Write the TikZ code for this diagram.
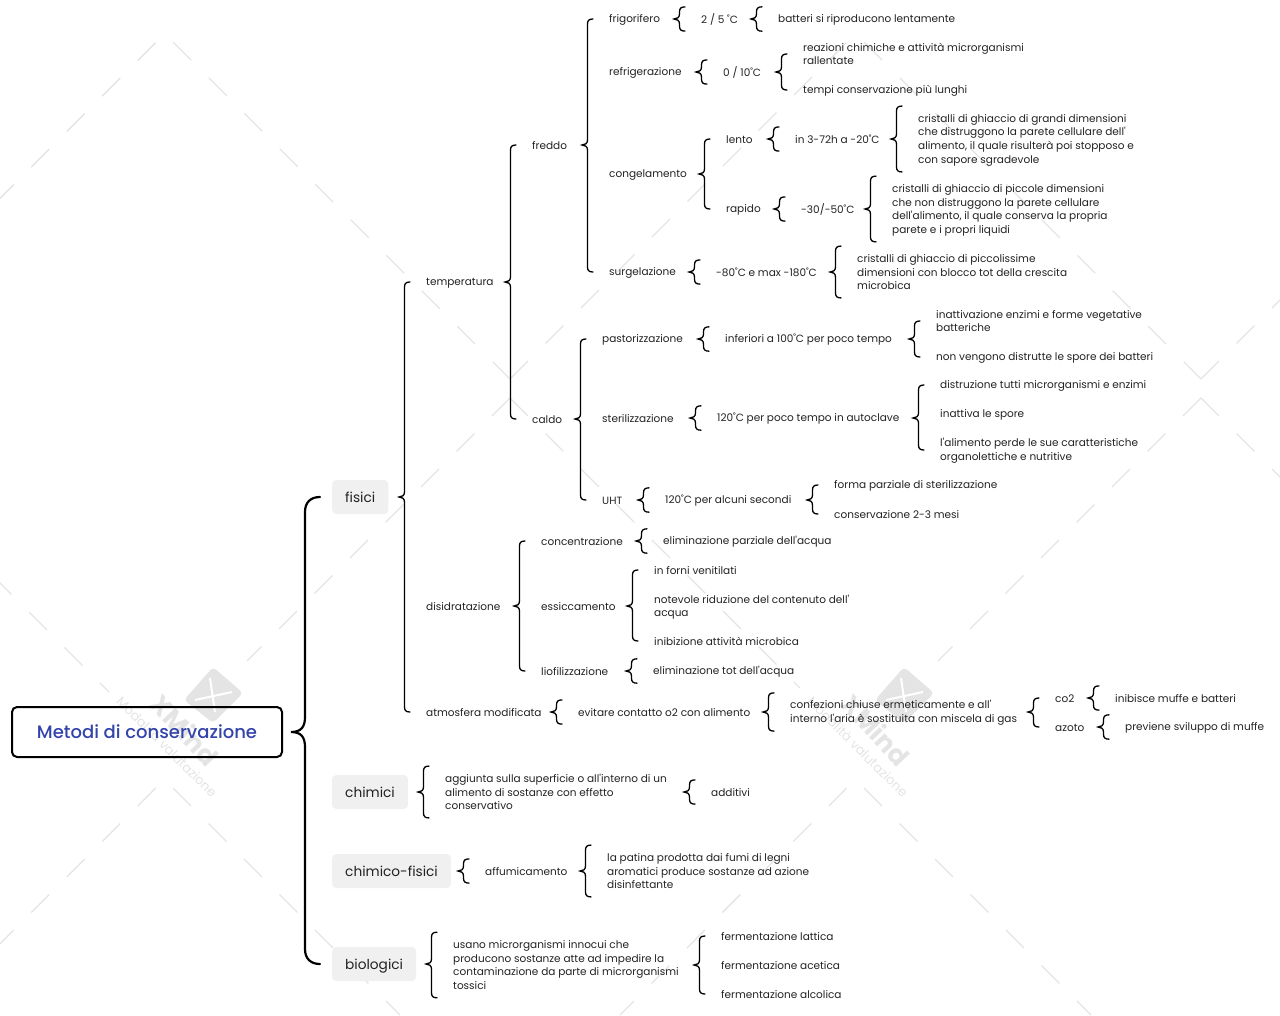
\documentclass[tikz,border=0pt]{standalone}
\usepackage{fontspec}
\setmainfont{Poppins}[Ligatures=TeXOff]
\newfontfamily\titlefont{Poppins Medium}
\usetikzlibrary{calc}

\definecolor{inkgray}{HTML}{222222}
\definecolor{titleblue}{HTML}{3344AA}
\definecolor{catgray}{HTML}{F0F0F0}
\definecolor{markgray}{HTML}{E4E4E4}

\newcommand{\lstrut}{\vrule height 10.6pt depth 2.6pt width 0pt}
\newcommand{\kidbrace}[3]{
 \draw[brace] let \p1=(#2),\p2=(#3),\p3=(#1.east) in
  (\x1-16pt,\y1) .. controls (\x1-20pt,\y1) and (\x1-21.5pt,\y1-1.5pt) .. (\x1-21.5pt,\y1-5pt)
  -- (\x1-21.5pt,\y3+5pt) .. controls (\x1-21.5pt,\y3+1.5pt) and (\x1-24pt,\y3) .. (\x1-27pt,\y3)
  .. controls (\x1-24pt,\y3) and (\x1-21.5pt,\y3-1.5pt) .. (\x1-21.5pt,\y3-5pt)
  -- (\x1-21.5pt,\y2+5pt) .. controls (\x1-21.5pt,\y2+1.5pt) and (\x1-20pt,\y2) .. (\x1-16pt,\y2);
}
\newcommand{\onebrace}[2]{\kidbrace{#1}{$(#2.north west)+(0pt,5.3pt)$}{$(#2.south west)+(0pt,-5.3pt)$}}

\begin{document}
\begin{tikzpicture}[
 x=1pt,y=-1pt,
 txt/.style={anchor=west,inner sep=0pt,align=left,text=inkgray,font=\fontsize{10.5}{13.8}\selectfont},
 cat/.style={anchor=west,fill=catgray,rounded corners=4pt,inner xsep=13pt,inner ysep=0pt,minimum height=34pt,text height=14pt,text depth=3pt,text=inkgray,font=\fontsize{13.7}{17}\selectfont},
 main/.style={draw=black,line width=2pt,rounded corners=5pt,minimum width=270pt,minimum height=50pt,text=titleblue,font=\fontsize{18}{23}\titlefont},
 brace/.style={draw=black,line width=1.3pt,line cap=round},
 wmark/.style={draw=markgray,line width=1.3pt,dash pattern=on 25.4pt off 24.8pt}
]
\useasboundingbox (0,0) rectangle (1280,1015);

\begin{scope}
\clip (0,0) rectangle (1280,1015);
\foreach \from/\to in {{173.3,42.3}/{510,379},{155.7,42.7}/{-1,199.4},{510,379}/{846.3,42.7},{864.3,42.3}/{1201,379},{1201,379}/{1281,299},
 {510,398}/{247,661},{510,398}/{800,688},{1201,398}/{938,661},{1201,398}/{1281,478},{-6.5,576.5}/{109,692},
 {155.7,788}/{-1,944.7},{173,788}/{400,1015},{846.7,788}/{620,1015},{864,788}/{1091,1015}}
 {\draw[wmark] (\from) -- (\to);}
\end{scope}
\foreach \lx in {0,691} {
 \begin{scope}[xshift=\lx pt]
 \fill[markgray,rounded corners=4pt] (213,667) -- (243,693) -- (213,723) -- (184,700) -- cycle;
 \draw[white,line width=2pt] (210,678) -- (215,712) (195,700) -- (232,692);
 \node (xmind-\lx) [rotate=-47,text=markgray,font=\fontsize{26}{30}\selectfont\bfseries] at (185,730) {XMind};
 \node (trial-\lx) [rotate=-45,text=markgray,font=\fontsize{13}{15}\selectfont] at (167,747) {Modalità valutazione};
 \end{scope}
}

\node (metodi) [main] at (147,732) {Metodi di conservazione};
\node (fisici) [cat] at (332,497) {fisici};
\node (chimici) [cat] at (332,792) {chimici};
\node (chimico-fisici) [cat] at (332,871) {chimico-fisici};
\node (biologici) [cat] at (332,964) {biologici};

\node (temperatura) [txt] at (426,282) {\lstrut temperatura};
\node (disidratazione) [txt] at (426,606) {\lstrut disidratazione};
\node (atmosfera) [txt] at (426,712) {\lstrut atmosfera modificata};

\node (freddo) [txt] at (532,145) {\lstrut freddo};
\node (caldo) [txt] at (532,419) {\lstrut caldo};

\node (frigorifero) [txt] at (609,19) {\lstrut frigorifero};
\node (frigo-temp) [txt] at (701,19) {\lstrut 2 / 5 ˚C};
\node (frigo-note) [txt] at (778,19) {\lstrut batteri si riproducono lentamente};
\node (refrigerazione) [txt] at (609,72) {\lstrut refrigerazione};
\node (refri-temp) [txt] at (723,72) {\lstrut 0 / 10˚C};
\node (refri-note-a) [txt] at (803,54) {\lstrut reazioni chimiche e attività microrganismi\\rallentate\lstrut};
\node (refri-note-b) [txt] at (803,90) {\lstrut tempi conservazione più lunghi};
\node (congelamento) [txt] at (609,174) {\lstrut congelamento};
\node (lento) [txt] at (726,139) {\lstrut lento};
\node (lento-temp) [txt] at (795,139) {\lstrut in 3-72h a -20˚C};
\node (lento-note) [txt] at (918,139) {\lstrut cristalli di ghiaccio di grandi dimensioni\\che distruggono la parete cellulare dell'\\alimento, il quale risulterà poi stopposo e\\con sapore sgradevole\lstrut};
\node (rapido) [txt] at (726,209) {\lstrut rapido};
\node (rapido-temp) [txt] at (801,209) {\lstrut -30/-50˚C};
\node (rapido-note) [txt] at (892,209) {\lstrut cristalli di ghiaccio di piccole dimensioni\\che non distruggono la parete cellulare\\dell'alimento, il quale conserva la propria\\parete e i propri liquidi\lstrut};
\node (surgelazione) [txt] at (609,272) {\lstrut surgelazione};
\node (surge-temp) [txt] at (716,272) {\lstrut -80˚C e max -180˚C};
\node (surge-note) [txt] at (857,272) {\lstrut cristalli di ghiaccio di piccolissime\\dimensioni con blocco tot della crescita\\microbica\lstrut};

\node (pastorizzazione) [txt] at (602,339) {\lstrut pastorizzazione};
\node (pasto-temp) [txt] at (725,339) {\lstrut inferiori a 100˚C per poco tempo};
\node (pasto-note-a) [txt] at (936,321) {\lstrut inattivazione enzimi e forme vegetative\\batteriche\lstrut};
\node (pasto-note-b) [txt] at (936,357) {\lstrut non vengono distrutte le spore dei batteri};
\node (sterilizzazione) [txt] at (602,418) {\lstrut sterilizzazione};
\node (steri-temp) [txt] at (717,418) {\lstrut 120˚C per poco tempo in autoclave};
\node (steri-note-a) [txt] at (940,385) {\lstrut distruzione tutti microrganismi e enzimi};
\node (steri-note-b) [txt] at (940,414) {\lstrut inattiva le spore};
\node (steri-note-c) [txt] at (940,450) {\lstrut l'alimento perde le sue caratteristiche\\organolettiche e nutritive\lstrut};
\node (uht) [txt] at (602,500) {\lstrut UHT};
\node (uht-temp) [txt] at (665,500) {\lstrut 120˚C per alcuni secondi};
\node (uht-note-a) [txt] at (834,485) {\lstrut forma parziale di sterilizzazione};
\node (uht-note-b) [txt] at (834,514) {\lstrut conservazione 2-3 mesi};

\node (concentrazione) [txt] at (541,541) {\lstrut concentrazione};
\node (conc-note) [txt] at (663,541) {\lstrut eliminazione parziale dell'acqua};
\node (essiccamento) [txt] at (541,606) {\lstrut essiccamento};
\node (essi-note-a) [txt] at (654,570) {\lstrut in forni venitilati};
\node (essi-note-b) [txt] at (654,606) {\lstrut notevole riduzione del contenuto dell'\\acqua\lstrut};
\node (essi-note-c) [txt] at (654,641) {\lstrut inibizione attività microbica};
\node (liofilizzazione) [txt] at (541,671) {\lstrut liofilizzazione};
\node (liofi-note) [txt] at (653,671) {\lstrut eliminazione tot dell'acqua};

\node (evitare) [txt] at (578,712) {\lstrut evitare contatto o2 con alimento};
\node (confezioni) [txt] at (790,712) {\lstrut confezioni chiuse ermeticamente e all'\\interno l'aria è sostituita con miscela di gas\lstrut};
\node (co2) [txt] at (1055,698) {\lstrut co2};
\node (co2-note) [txt] at (1115,698) {\lstrut inibisce muffe e batteri};
\node (azoto) [txt] at (1055,727) {\lstrut azoto};
\node (azoto-note) [txt] at (1125,727) {\lstrut previene sviluppo di muffe};

\node (aggiunta) [txt] at (445,792) {\lstrut aggiunta sulla superficie o all'interno di un\\alimento di sostanze con effetto\\conservativo\lstrut};
\node (additivi) [txt] at (711,792) {\lstrut additivi};
\node (affumicamento) [txt] at (485,871) {\lstrut affumicamento};
\node (patina) [txt] at (607,871) {\lstrut la patina prodotta dai fumi di legni\\aromatici produce sostanze ad azione\\disinfettante\lstrut};
\node (usano) [txt] at (453,965) {\lstrut usano microrganismi innocui che\\producono sostanze atte ad impedire la\\contaminazione da parte di microrganismi\\tossici\lstrut};
\node (lattica) [txt] at (721,936) {\lstrut fermentazione lattica};
\node (acetica) [txt] at (721,965) {\lstrut fermentazione acetica};
\node (alcolica) [txt] at (721,994) {\lstrut fermentazione alcolica};

\draw[brace,line width=2.2pt] let \p1=(fisici.west),\p2=(biologici.west),\p3=(metodi.east) in
 (\x1-12pt,\y1) .. controls (\x1-21pt,\y1) and (\x1-27pt,\y1-5pt) .. (\x1-27pt,\y1-15pt)
 -- (\x1-27pt,\y3+15pt) .. controls (\x1-27pt,\y3+5pt) and (\x1-31pt,\y3) .. (\x1-41pt,\y3)
 .. controls (\x1-31pt,\y3) and (\x1-27pt,\y3-5pt) .. (\x1-27pt,\y3-15pt)
 -- (\x1-27pt,\y2+15pt) .. controls (\x1-27pt,\y2+5pt) and (\x1-21pt,\y2) .. (\x1-12pt,\y2);

\kidbrace{fisici}{temperatura.west}{atmosfera.west}
\kidbrace{temperatura}{freddo.west}{caldo.west}
\kidbrace{freddo}{frigorifero.west}{surgelazione.west}
\onebrace{frigorifero}{frigo-temp}
\onebrace{frigo-temp}{frigo-note}
\onebrace{refrigerazione}{refri-temp}
\kidbrace{refri-temp}{refri-note-a.west}{refri-note-b.west}
\kidbrace{congelamento}{lento.west}{rapido.west}
\onebrace{lento}{lento-temp}
\onebrace{lento-temp}{lento-note}
\onebrace{rapido}{rapido-temp}
\onebrace{rapido-temp}{rapido-note}
\onebrace{surgelazione}{surge-temp}
\onebrace{surge-temp}{surge-note}
\kidbrace{caldo}{pastorizzazione.west}{uht.west}
\onebrace{pastorizzazione}{pasto-temp}
\kidbrace{pasto-temp}{pasto-note-a.west}{pasto-note-b.west}
\onebrace{sterilizzazione}{steri-temp}
\kidbrace{steri-temp}{steri-note-a.west}{steri-note-c.west}
\onebrace{uht}{uht-temp}
\kidbrace{uht-temp}{uht-note-a.west}{uht-note-b.west}
\kidbrace{disidratazione}{concentrazione.west}{liofilizzazione.west}
\onebrace{concentrazione}{conc-note}
\kidbrace{essiccamento}{essi-note-a.west}{essi-note-c.west}
\onebrace{liofilizzazione}{liofi-note}
\onebrace{atmosfera}{evitare}
\onebrace{evitare}{confezioni}
\kidbrace{confezioni}{co2.west}{azoto.west}
\onebrace{co2}{co2-note}
\onebrace{azoto}{azoto-note}
\onebrace{chimici}{aggiunta}
\onebrace{aggiunta}{additivi}
\onebrace{chimico-fisici}{affumicamento}
\onebrace{affumicamento}{patina}
\onebrace{biologici}{usano}
\kidbrace{usano}{lattica.west}{alcolica.west}
\end{tikzpicture}
\end{document}
